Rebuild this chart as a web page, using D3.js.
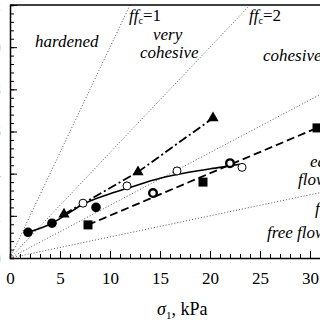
<!DOCTYPE html>
<html>
<head>
<meta charset="utf-8">
<script src="https://cdn.jsdelivr.net/npm/d3@7"></script>
<style>
body { margin: 0; background: #fff; }
</style>
</head>
<body>
<div id="chart"></div>
<script>
// ***Data***
var ffcValues = [1, 2, 4, 10];
var filledCircles = [[1.8, 1.22], [4.2, 1.65], [8.6, 2.4]];
var openCircles = [[7.3, 2.6], [11.7, 3.42], [16.7, 4.13], [23.2, 4.3]];
var boldCircles = [[14.3, 3.08], [22, 4.5]];
var triangles = [[5.4, 2.07], [12.8, 4.08], [20.3, 6.64]];
var squares = [[7.8, 1.57], [19.3, 3.6], [30.7, 6.17]];
var curveFit = [[1.8, 1.22], [4.2, 1.65], [5.6, 2.05], [7.3, 2.55], [10, 3.05], [12, 3.35], [15, 3.78], [18, 4.08], [21, 4.3], [23, 4.45]];
var dashedFit = [[7.8, 1.57], [30.7, 6.17]];
var xTicks = [0, 5, 10, 15, 20, 25, 30];
var yTicks = [0, 2, 4, 6, 8, 10, 12];

function init() {
	var w = 320;
	var h = 320;
	var left = 10, top = 5, bottom = 258;
	var serif = "Liberation Serif";

	var xScale = d3.scaleLinear().domain([0, 32]).range([left, left + 320]);
	var yScale = d3.scaleLinear().domain([0, 12]).range([bottom, top]);

	var svg = d3.select("#chart")
				.append("svg")
				.attr("width", w)
				.attr("height", h)
				.attr("font-family", serif);

	svg.append("clipPath").attr("id", "plot")
		.append("rect")
		.attr("x", left).attr("y", top)
		.attr("width", 330).attr("height", bottom - top);

	var plot = svg.append("g").attr("clip-path", "url(#plot)");

	// ffc dotted lines
	plot.selectAll("line.ffc")
		.data(ffcValues)
		.enter()
		.append("line")
		.attr("class", "ffc")
		.attr("x1", xScale(0))
		.attr("y1", yScale(0))
		.attr("x2", function(d) { return xScale(40); })
		.attr("y2", function(d) { return yScale(40 / d); })
		.attr("stroke", "#555")
		.attr("stroke-width", 1)
		.attr("stroke-dasharray", "1,2");

	var line = d3.line()
		.x(function(d) { return xScale(d[0]); })
		.y(function(d) { return yScale(d[1]); });

	plot.append("path")
		.datum(curveFit)
		.attr("d", line.curve(d3.curveMonotoneX))
		.attr("fill", "none")
		.attr("stroke", "#000")
		.attr("stroke-width", 1.6);

	plot.append("path")
		.datum(triangles)
		.attr("d", line.curve(d3.curveLinear))
		.attr("fill", "none")
		.attr("stroke", "#000")
		.attr("stroke-width", 1.8)
		.attr("stroke-dasharray", "9,3,2,3");

	plot.append("path")
		.datum(dashedFit)
		.attr("d", line.curve(d3.curveLinear))
		.attr("fill", "none")
		.attr("stroke", "#000")
		.attr("stroke-width", 1.8)
		.attr("stroke-dasharray", "8,4");

	// markers
	plot.selectAll("circle.filled")
		.data(filledCircles)
		.enter()
		.append("circle")
		.attr("cx", function(d) { return xScale(d[0]); })
		.attr("cy", function(d) { return yScale(d[1]); })
		.attr("r", 4.8)
		.attr("fill", "#000");

	plot.selectAll("circle.open")
		.data(openCircles)
		.enter()
		.append("circle")
		.attr("cx", function(d) { return xScale(d[0]); })
		.attr("cy", function(d) { return yScale(d[1]); })
		.attr("r", 4)
		.attr("fill", "#fff")
		.attr("stroke", "#000")
		.attr("stroke-width", 1);

	plot.selectAll("circle.bold")
		.data(boldCircles)
		.enter()
		.append("circle")
		.attr("cx", function(d) { return xScale(d[0]); })
		.attr("cy", function(d) { return yScale(d[1]); })
		.attr("r", 3.8)
		.attr("fill", "#fff")
		.attr("stroke", "#000")
		.attr("stroke-width", 2.4);

	plot.selectAll("path.tri")
		.data(triangles)
		.enter()
		.append("path")
		.attr("d", d3.symbol().type(d3.symbolTriangle).size(55))
		.attr("transform", function(d) { return "translate(" + xScale(d[0]) + "," + yScale(d[1]) + ")"; })
		.attr("fill", "#000");

	plot.selectAll("rect.sq")
		.data(squares)
		.enter()
		.append("rect")
		.attr("x", function(d) { return xScale(d[0]) - 4.5; })
		.attr("y", function(d) { return yScale(d[1]) - 4.5; })
		.attr("width", 9)
		.attr("height", 9)
		.attr("fill", "#000");

	// axes
	svg.append("g")
		.attr("transform", "translate(0," + bottom + ")")
		.call(d3.axisBottom(xScale).tickValues(d3.range(0, 32, 1)).tickSize(-4).tickFormat(""));

	svg.append("g")
		.attr("transform", "translate(0," + bottom + ")")
		.call(d3.axisBottom(xScale).tickValues(xTicks).tickSize(-7).tickPadding(14))
		.call(function(g) {
			g.attr("font-family", serif).attr("font-size", 17);
			g.select(".domain").remove();
			g.selectAll("text").attr("fill", "#000");
		});

	svg.append("g")
		.attr("transform", "translate(" + left + ",0)")
		.call(d3.axisLeft(yScale).tickValues(d3.range(0, 12.01, 0.4)).tickSize(-4).tickFormat(""));

	svg.append("g")
		.attr("transform", "translate(" + left + ",0)")
		.call(d3.axisLeft(yScale).tickValues(yTicks).tickSize(-7).tickPadding(9))
		.call(function(g) {
			g.attr("font-family", serif).attr("font-size", 17);
			g.select(".domain").remove();
			g.selectAll("text").attr("fill", "#bbb");
		});

	svg.selectAll(".domain").attr("stroke-width", 1.5);

	svg.append("line")
		.attr("x1", left).attr("x2", w)
		.attr("y1", top).attr("y2", top)
		.attr("stroke", "#000").attr("stroke-width", 1.5);

	// x label
	var xl = svg.append("text")
		.attr("x", 157).attr("y", 315)
		.attr("font-size", 18);
	xl.append("tspan").attr("font-style", "italic").text("σ");
	xl.append("tspan").attr("font-size", 11).attr("dy", 4).text("1");
	xl.append("tspan").attr("dy", -4).text(", kPa");

	// region labels
	var regions = [
		{t: "hardened", x: 35, y: 47},
		{t: "very", x: 153, y: 40},
		{t: "cohesive", x: 140, y: 58},
		{t: "cohesive", x: 263, y: 61},
		{t: "easy", x: 310, y: 167},
		{t: "flowing", x: 298, y: 185},
		{t: "free flowing", x: 267, y: 238}
	];
	svg.selectAll("text.region")
		.data(regions)
		.enter()
		.append("text")
		.attr("class", "region")
		.attr("x", function(d) { return d.x; })
		.attr("y", function(d) { return d.y; })
		.attr("font-size", 17)
		.attr("font-style", "italic")
		.text(function(d) { return d.t; });

	var ffcLabels = [{v: 1, x: 129, y: 21}, {v: 2, x: 249, y: 21}, {v: 10, x: 315, y: 214}];
	var fl = svg.selectAll("text.ffcl")
		.data(ffcLabels)
		.enter()
		.append("text")
		.attr("x", function(d) { return d.x; })
		.attr("y", function(d) { return d.y; })
		.attr("font-size", 17);
	fl.append("tspan").attr("font-style", "italic").text("ff");
	fl.append("tspan").attr("font-size", 10).attr("dy", 3).text("c");
	fl.append("tspan").attr("dy", -3).text(function(d) { return "=" + d.v; });
}

window.onload = init;
</script>
</body>
</html>
